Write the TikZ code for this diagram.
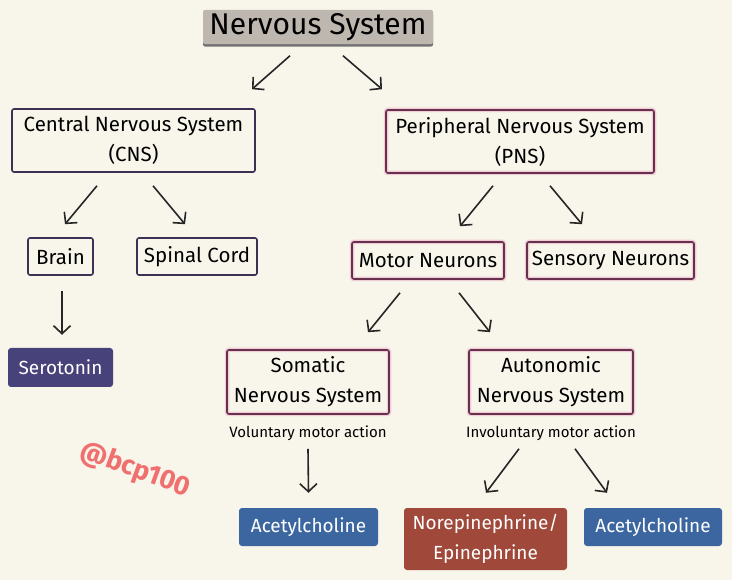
\documentclass[tikz,border=0pt]{standalone}
\usepackage{fontspec}
\setmainfont{Fira Sans}
\usetikzlibrary{arrows.meta,shadows}
\definecolor{paper}{RGB}{248,245,234}
\definecolor{titlegray}{RGB}{190,183,176}
\definecolor{cnsline}{RGB}{62,48,84}
\definecolor{pnsline}{RGB}{104,48,78}
\definecolor{glow}{RGB}{238,205,212}
\definecolor{seropurple}{RGB}{72,66,122}
\definecolor{achblue}{RGB}{60,102,160}
\definecolor{norred}{RGB}{160,72,58}
\definecolor{stampred}{RGB}{240,112,112}

\begin{document}
\begin{tikzpicture}[x=1pt,y=-1pt,
        title node/.style={fill=titlegray,rounded corners=2pt,minimum width=230pt,minimum height=33pt,
          font=\fontsize{30}{32}\selectfont,
          drop shadow={shadow xshift=0pt,shadow yshift=-2.5pt,fill=black!55,opacity=1}},
        cns box/.style={draw=cnsline,line width=1.6pt,rounded corners=2pt,align=center,
          font=\fontsize{20.5}{30}\selectfont},
        pns box/.style={draw=pnsline,line width=1.6pt,rounded corners=2pt,align=center,
          preaction={draw=glow,line width=4.5pt},font=\fontsize{20.5}{30}\selectfont},
        fill box/.style={rounded corners=3pt,text=white,align=center,font=\fontsize{19}{30}\selectfont},
        note/.style={font=\fontsize{15}{17}\selectfont},
        arr/.style={draw=black!85,line width=1.6pt,-{Straight Barb[length=8pt,width=17pt]}},
        stamp/.style={text=stampred,font=\fontsize{27}{30}\selectfont\bfseries,rotate=-20}
      ]
      \fill[paper] (0,0) rectangle (732,580);

      % boxes
      \node[title node] (ns) at (318,27) {Nervous System};
      \node[cns box,minimum width=243pt,minimum height=63pt] (cns) at (133.5,140.5) {Central Nervous System\\(CNS)};
      \node[pns box,minimum width=268pt,minimum height=63pt] (pns) at (520,141.5) {Peripheral Nervous System\\(PNS)};
      \node[cns box,minimum width=65pt,minimum height=37pt] (brain) at (60.5,256.5) {Brain};
      \node[cns box,minimum width=120pt,minimum height=37pt] (spinal) at (197,256.5) {Spinal Cord};
      \node[pns box,minimum width=152pt,minimum height=37pt] (motor) at (428,260.5) {Motor Neurons};
      \node[pns box,minimum width=167pt,minimum height=37pt] (sensory) at (610.5,260.5) {Sensory Neurons};
      \node[fill box,fill=seropurple,minimum width=105pt,minimum height=39pt] (sero) at (60.5,367.5) {Serotonin};
      \node[pns box,minimum width=162pt,minimum height=64pt] (somatic) at (308,382) {Somatic\\Nervous System};
      \node[pns box,minimum width=164pt,minimum height=64pt] (autonomic) at (551,382) {Autonomic\\Nervous System};
      \node[note] (vol) at (308,433) {Voluntary motor action};
      \node[note] (invol) at (551,433) {Involuntary motor action};
      \node[fill box,fill=achblue,minimum width=139pt,minimum height=38pt] (ach1) at (308.5,527) {Acetylcholine};
      \node[fill box,fill=norred,minimum width=163pt,minimum height=62pt] (norepi) at (485.5,539) {Norepinephrine/\\Epinephrine};
      \node[fill box,fill=achblue,minimum width=138pt,minimum height=38pt] (ach2) at (653,527) {Acetylcholine};
      \node[stamp] (tag) at (135,470) {@bcp100};

      % arrows
      \draw[arr] ([shift={(-28,11.5)}]ns.south) -- ([shift={(118.5,-19)}]cns.north);
      \draw[arr] ([shift={(25,11.5)}]ns.south) -- ([shift={(-138,-20)}]pns.north);
      \draw[arr] ([shift={(-36.5,13)}]cns.south) -- ([shift={(4.5,-13)}]brain.north);
      \draw[arr] ([shift={(19.5,13)}]cns.south) -- ([shift={(-12,-13)}]spinal.north);
      \draw[arr] ([shift={(1.5,15)}]brain.south) -- ([shift={(1.5,-13)}]sero.north);
      \draw[arr] ([shift={(-27,12)}]pns.south) -- ([shift={(32,-15)}]motor.north);
      \draw[arr] ([shift={(30,12)}]pns.south) -- ([shift={(-28.5,-17)}]sensory.north);
      \draw[arr] ([shift={(-28,13)}]motor.south) -- ([shift={(60,-17)}]somatic.north);
      \draw[arr] ([shift={(31,13)}]motor.south) -- ([shift={(-61,-17)}]autonomic.north);
      \draw[arr] ([shift={(0,34)}]somatic.south) -- ([shift={(0,-15)}]ach1.north);
      \draw[arr] ([shift={(-32,34)}]autonomic.south) -- ([shift={(0.5,-15)}]norepi.north);
      \draw[arr] ([shift={(24,34)}]autonomic.south) -- ([shift={(-46,-15)}]ach2.north);
    \end{tikzpicture}
\end{document}
